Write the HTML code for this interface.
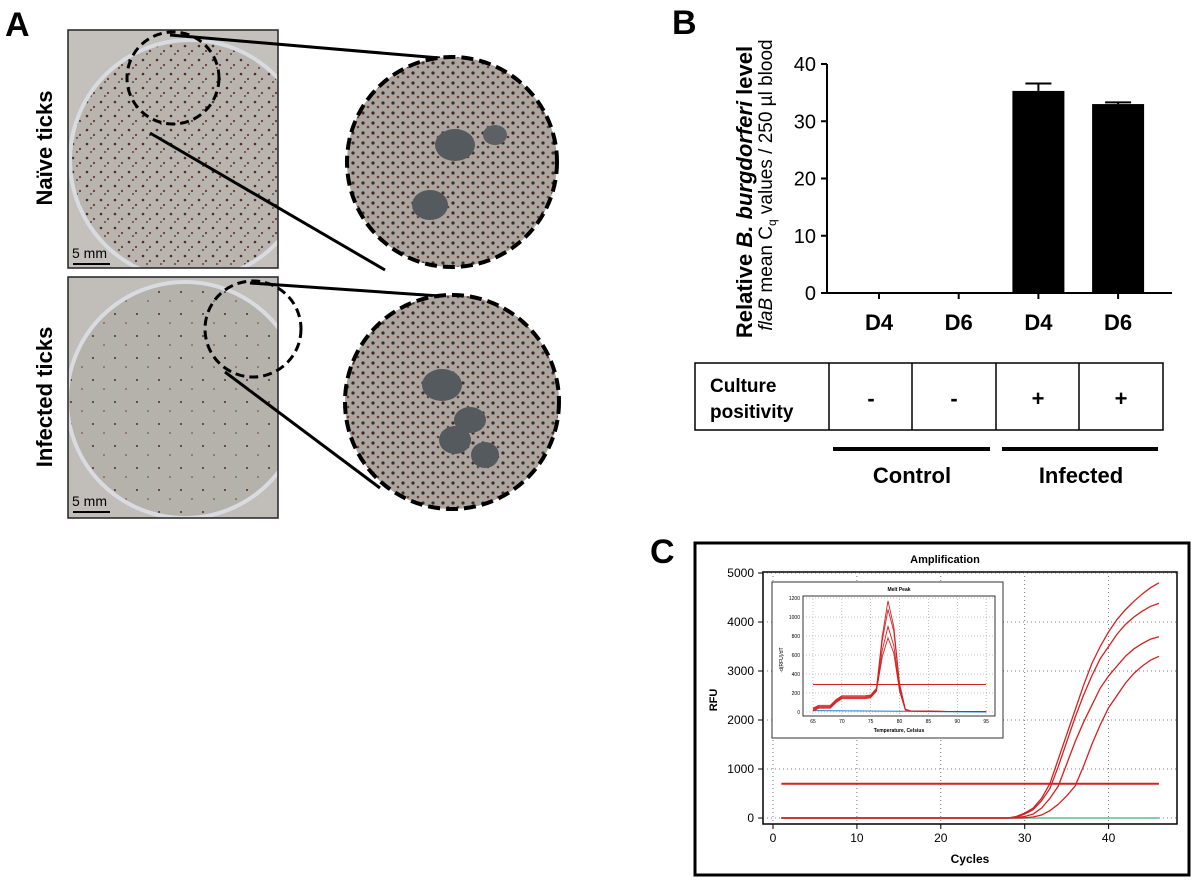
<!DOCTYPE html>
<html><head><meta charset="utf-8"><style>
body{margin:0;background:#fff;width:1200px;height:880px;overflow:hidden;font-family:"Liberation Sans",Arial,sans-serif}
svg text{font-family:"Liberation Sans",Arial,sans-serif}
</style></head><body>
<svg id="fig" width="1200" height="880" viewBox="0 0 1200 880">
<defs>
<pattern id="speck" width="14" height="14" patternUnits="userSpaceOnUse">
<rect width="14" height="14" fill="#b9b4ad"/>
<circle cx="3" cy="4" r="1.3" fill="#4a2f2c"/><circle cx="10" cy="9" r="1.1" fill="#6b3a33"/><circle cx="7" cy="12" r="0.9" fill="#3a2a28"/>
</pattern>
<pattern id="speck2" width="22" height="22" patternUnits="userSpaceOnUse">
<rect width="22" height="22" fill="#b5b1ab"/>
<circle cx="5" cy="6" r="1" fill="#4a2f2c"/><circle cx="16" cy="15" r="0.8" fill="#6b3a33"/>
</pattern>
<pattern id="speckB" width="10" height="10" patternUnits="userSpaceOnUse">
<rect width="10" height="10" fill="#aba69f"/>
<circle cx="3" cy="3" r="1.6" fill="#3e2724"/><circle cx="8" cy="7" r="1.3" fill="#6b3630"/>
</pattern>
<clipPath id="clipTop"><rect x="68" y="30" width="210" height="238"/></clipPath>
<clipPath id="clipBot"><rect x="68" y="277" width="210" height="241"/></clipPath>
</defs>

<!-- Panel A -->
<g>
<text x="5" y="36" font-size="34" font-weight="bold">A</text>
<text transform="translate(52,148) rotate(-90)" font-size="22" font-weight="bold" text-anchor="middle">Naïve ticks</text>
<text transform="translate(52,397) rotate(-90)" font-size="22" font-weight="bold" text-anchor="middle">Infected ticks</text>
<g>
<rect x="68" y="30" width="210" height="238" fill="#c4c0bb"/>
<circle cx="190" cy="160" r="120" fill="url(#speck)" stroke="#d8dbe0" stroke-width="4" clip-path="url(#clipTop)"/>
<rect x="68" y="30" width="210" height="238" fill="none" stroke="#222" stroke-width="1.5"/>
<text x="72" y="258" font-size="14">5 mm</text>
<line x1="73" y1="264" x2="110" y2="264" stroke="#000" stroke-width="2"/>
</g>
<g>
<rect x="68" y="277" width="210" height="241" fill="#c1bdb8"/>
<circle cx="185" cy="400" r="118" fill="url(#speck2)" stroke="#d8dbe0" stroke-width="4" clip-path="url(#clipBot)"/>
<rect x="68" y="277" width="210" height="241" fill="none" stroke="#222" stroke-width="1.5"/>
<text x="72" y="506" font-size="14">5 mm</text>
<line x1="73" y1="512" x2="110" y2="512" stroke="#000" stroke-width="2"/>
</g>
<g stroke="#000" stroke-width="3" fill="none">
<line x1="170" y1="35" x2="440" y2="58"/><line x1="150" y1="133" x2="385" y2="270"/>
<line x1="250" y1="283" x2="440" y2="296"/><line x1="225" y1="372" x2="380" y2="488"/>
</g>
<circle cx="173" cy="78" r="46" fill="none" stroke="#000" stroke-width="3" stroke-dasharray="9,5"/>
<circle cx="253" cy="329" r="48" fill="none" stroke="#000" stroke-width="3" stroke-dasharray="9,5"/>
<g>
<circle cx="452" cy="162" r="105" fill="url(#speckB)"/>
<ellipse cx="455" cy="145" rx="20" ry="16" fill="#555a5e"/><ellipse cx="430" cy="205" rx="18" ry="15" fill="#555a5e"/><ellipse cx="495" cy="135" rx="12" ry="10" fill="#5d6165"/>
<circle cx="452" cy="162" r="105" fill="none" stroke="#000" stroke-width="4" stroke-dasharray="12,6"/>
</g>
<g>
<circle cx="452" cy="402" r="107" fill="url(#speckB)"/>
<ellipse cx="442" cy="385" rx="20" ry="16" fill="#555a5e"/><ellipse cx="470" cy="420" rx="16" ry="13" fill="#555a5e"/><ellipse cx="455" cy="440" rx="16" ry="14" fill="#555a5e"/><ellipse cx="485" cy="455" rx="14" ry="13" fill="#555a5e"/>
<circle cx="452" cy="402" r="107" fill="none" stroke="#000" stroke-width="4" stroke-dasharray="12,6"/>
</g>
</g>

<!-- Panel B -->
<g id="panelB">
<text x="672" y="34" font-size="34" font-weight="bold">B</text>
<text transform="translate(752,192) rotate(-90)" font-size="22" font-weight="bold" text-anchor="middle">Relative <tspan font-style="italic">B. burgdorferi</tspan> level</text>
<text transform="translate(772,185) rotate(-90)" font-size="19" text-anchor="middle"><tspan font-style="italic">flaB</tspan> mean C<tspan font-size="12" dy="4">q</tspan><tspan dy="-4"> values / 250 µl blood</tspan></text>
</g>
<g>
<rect x="695" y="363" width="468" height="67" fill="none" stroke="#000" stroke-width="1.5"/>
<g stroke="#000" stroke-width="1.5"><line x1="829" y1="363" x2="829" y2="430"/><line x1="912" y1="363" x2="912" y2="430"/><line x1="996" y1="363" x2="996" y2="430"/><line x1="1079" y1="363" x2="1079" y2="430"/></g>
<text x="710" y="392" font-size="19" font-weight="bold">Culture</text>
<text x="710" y="418" font-size="19" font-weight="bold">positivity</text>
<g font-size="22" font-weight="bold" text-anchor="middle">
<text x="871" y="406">-</text>
<text x="954" y="406">-</text>
<text x="1038" y="406">+</text>
<text x="1121" y="406">+</text>
</g>
<line x1="833" y1="449" x2="990" y2="449" stroke="#000" stroke-width="4"/>
<line x1="1002" y1="449" x2="1158" y2="449" stroke="#000" stroke-width="4"/>
<text x="912" y="483" font-size="22" font-weight="bold" text-anchor="middle">Control</text>
<text x="1081" y="483" font-size="22" font-weight="bold" text-anchor="middle">Infected</text>
</g>

<!-- Panel C -->
<g>
<text x="650" y="563" font-size="34" font-weight="bold">C</text>
<rect x="695" y="543" width="494" height="332" fill="#fff" stroke="#000" stroke-width="3"/>
<text x="945" y="563" font-size="11" font-weight="bold" text-anchor="middle">Amplification</text>
<text transform="translate(717,700) rotate(-90)" font-size="11" font-weight="bold" text-anchor="middle">RFU</text>
<text x="970" y="863" font-size="12" font-weight="bold" text-anchor="middle">Cycles</text>
<g id="panelC"></g>
</g>
</svg>
<script>
// ---- Panel B data ----
const bCategories = ["D4","D6","D4","D6"];
const bValues = [0, 0, 35.3, 33.0];
const bErrors = [0, 0, 1.3, 0.3];
const bTicks = [0,10,20,30,40];
// ---- Panel C data ----
const cCycles = [28,29,30,31,32,33,34,35,36,37,38,39,40,41,42,43,44,45,46];
const cSeries1 = [0,30,100,200,400,700,1200,1700,2200,2700,3150,3500,3800,4050,4250,4420,4570,4700,4800];
const cSeries2 = [0,20,80,170,350,600,1050,1550,2050,2500,2900,3250,3500,3750,3950,4100,4220,4320,4380];
const cSeries3 = [0,10,30,80,200,400,650,1100,1550,1950,2300,2650,2900,3100,3300,3450,3560,3650,3700];
const cSeries4 = [0,0,5,20,60,150,280,450,650,1050,1500,1900,2250,2500,2750,2950,3100,3220,3300];
const cThreshold = 700;
const cXTicks = [0,10,20,30,40];
const cYTicks = [0,1000,2000,3000,4000,5000];
const mTemps = [65,66,67,68,69,70,72,74,75,76,77,78,79,80,81,82,85,90,95];
const mSeries1 = [40,70,70,70,130,170,170,170,180,250,800,1170,900,300,30,10,8,5,5];
const mSeries2 = [30,60,60,60,120,160,160,160,170,240,750,1080,850,280,30,10,8,5,5];
const mSeries3 = [20,50,50,50,110,150,150,150,160,230,650,900,700,250,25,10,8,5,5];
const mSeries4 = [10,40,40,40,100,140,140,140,150,220,580,780,620,220,20,10,8,5,5];
const mThreshold = 290;
const mXTicks = [65,70,75,80,85,90,95];
const mYTicks = [0,200,400,600,800,1000,1200];

const NS="http://www.w3.org/2000/svg";
function mk(tag,attrs,parent){const e=document.createElementNS(NS,tag);for(const k in attrs)e.setAttribute(k,attrs[k]);parent.appendChild(e);return e;}

// Panel B
const gB=document.getElementById('panelB');
const yB=v=>293-(v/40)*229;
const xB=i=>879+i*79.7;
mk('line',{x1:827,y1:64,x2:827,y2:293,stroke:'#000','stroke-width':2},gB);
mk('line',{x1:827,y1:293,x2:1172,y2:293,stroke:'#000','stroke-width':2},gB);
bTicks.forEach(t=>{
 mk('line',{x1:821,y1:yB(t),x2:827,y2:yB(t),stroke:'#000','stroke-width':2},gB);
 const tx=mk('text',{x:816,y:yB(t)+7,'font-size':20,'text-anchor':'end'},gB);tx.textContent=t;
 
 
});
bCategories.forEach((c,i)=>{
 const x=xB(i);
 mk('line',{x1:x,y1:293,x2:x,y2:299,stroke:'#000','stroke-width':2},gB);
 const tx=mk('text',{x:x,y:330,'font-size':22,'font-weight':'bold','text-anchor':'middle'},gB);tx.textContent=c;
 
 
 if(bValues[i]>0){
  const top=yB(bValues[i]+bErrors[i]);
  const el=mk('line',{x1:x,y1:yB(bValues[i]),x2:x,y2:top,stroke:'#000','stroke-width':2},gB);
  
  
  mk('line',{x1:x-13,y1:top,x2:x+13,y2:top,stroke:'#000','stroke-width':2},gB);
  const r=mk('rect',{x:x-26,y:yB(bValues[i]),width:52,height:293-yB(bValues[i]),fill:'#000'},gB);
  
  
 }
});

// Panel C
const gC=document.getElementById('panelC');
const xC=c=>773+c*8.39;
const yC=v=>818-v*0.049;
mk('rect',{x:763,y:572,width:414,height:252,fill:'none',stroke:'#000','stroke-width':1.5},gC);
cXTicks.forEach(t=>{
 mk('line',{x1:xC(t),y1:572,x2:xC(t),y2:824,stroke:'#555','stroke-width':0.8,'stroke-dasharray':'1,3'},gC);
 mk('line',{x1:xC(t),y1:824,x2:xC(t),y2:829,stroke:'#000'},gC);
 const tx=mk('text',{x:xC(t),y:842,'font-size':12,'text-anchor':'middle'},gC);tx.textContent=t;
 
 
});
cYTicks.forEach(t=>{
 mk('line',{x1:763,y1:yC(t),x2:1177,y2:yC(t),stroke:'#555','stroke-width':0.8,'stroke-dasharray':'1,3'},gC);
 mk('line',{x1:758,y1:yC(t),x2:763,y2:yC(t),stroke:'#000'},gC);
 const tx=mk('text',{x:754,y:yC(t)+4,'font-size':12,'text-anchor':'end'},gC);tx.textContent=t;
 
 
});
const base=mk('line',{x1:xC(1),y1:yC(0),x2:xC(46),y2:yC(0),stroke:'#7fd0b0','stroke-width':2},gC);


const thr=mk('line',{x1:xC(1),y1:yC(cThreshold),x2:xC(46),y2:yC(cThreshold),stroke:'#d42020','stroke-width':2},gC);


[cSeries1,cSeries2,cSeries3,cSeries4].forEach((s,k)=>{
 const pts=[[xC(1),yC(0)]].concat(cCycles.map((c,i)=>[xC(c),yC(s[i])]));
 const p=mk('polyline',{points:pts.map(p=>p.join(',')).join(' '),fill:'none',stroke:'#d42020','stroke-width':1.3},gC);
 
 
});
// inset
const ins=mk('g',{},gC);


mk('rect',{x:772,y:582,width:231,height:156,fill:'#fff',stroke:'#333','stroke-width':1},ins);
const xI=t=>813+(t-65)*5.77;
const yI=v=>712-v*0.095;
mk('rect',{x:803,y:596,width:192,height:120,fill:'none',stroke:'#000','stroke-width':0.8},ins);
const it=mk('text',{x:899,y:591,'font-size':5,'font-weight':'bold','text-anchor':'middle'},ins);it.textContent='Melt Peak';
const ix=mk('text',{x:899,y:732,'font-size':5,'font-weight':'bold','text-anchor':'middle'},ins);ix.textContent='Temperature, Celsius';
const iy=mk('text',{transform:'translate(783,660) rotate(-90)','font-size':5,'text-anchor':'middle'},ins);iy.textContent='-d(RFU)/dT';
mXTicks.forEach(t=>{
 mk('line',{x1:xI(t),y1:596,x2:xI(t),y2:716,stroke:'#888','stroke-width':0.5,'stroke-dasharray':'1,2'},ins);
 const tx=mk('text',{x:xI(t),y:723,'font-size':5,'text-anchor':'middle'},ins);tx.textContent=t;
});
mYTicks.forEach(t=>{
 mk('line',{x1:803,y1:yI(t),x2:995,y2:yI(t),stroke:'#888','stroke-width':0.5,'stroke-dasharray':'1,2'},ins);
 const tx=mk('text',{x:800,y:yI(t)+2,'font-size':5,'text-anchor':'end'},ins);tx.textContent=t;
});
mk('line',{x1:xI(65),y1:yI(15),x2:xI(95),y2:yI(0),stroke:'#3a8fd8','stroke-width':1.2},ins);
mk('line',{x1:xI(65),y1:yI(mThreshold),x2:xI(95),y2:yI(mThreshold),stroke:'#d42020','stroke-width':1},ins);
[mSeries1,mSeries2,mSeries3,mSeries4].forEach((s,k)=>{
 const p=mk('polyline',{points:mTemps.map((t,i)=>xI(t)+','+yI(s[i])).join(' '),fill:'none',stroke:'#d42020','stroke-width':0.9},ins);
 
 
});
</script>
</body></html>
